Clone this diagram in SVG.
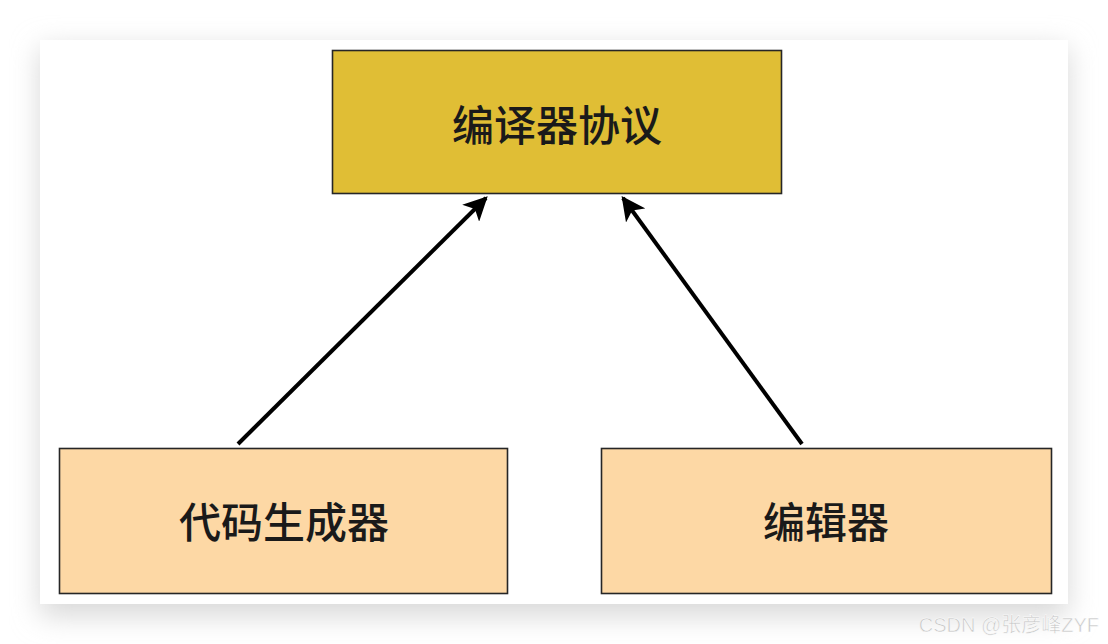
<svg xmlns="http://www.w3.org/2000/svg" width="1108" height="644" viewBox="0 0 1108 644">
<defs>
<filter id="sh" x="-10%" y="-20%" width="120%" height="140%"><feGaussianBlur stdDeviation="14"/></filter>
<marker id="ah" viewBox="0 0 10 10" refX="9" refY="5" markerWidth="6" markerHeight="6" orient="auto" markerUnits="strokeWidth"><path d="M0,0 L10,5 L0,10 L2.5,5 Z" fill="#000"/></marker>
<style>
.box{stroke:#262626;stroke-width:1.6}
.t{font-family:"Noto Sans CJK SC","Noto Sans",sans-serif;font-size:42px;font-weight:500;fill:#1a1a1a;text-anchor:middle;dominant-baseline:central}
.c{stroke:#000;stroke-width:4;fill:none;marker-end:url(#ah)}
</style>
</defs>
<rect width="1108" height="644" fill="#ffffff"/>
<rect x="40" y="48" width="1028" height="568" fill="#d8d8d8" filter="url(#sh)"/>
<rect x="40" y="40" width="1028" height="564" fill="#ffffff"/>
<g id="connectors">
<line class="c" x1="238" y1="444" x2="486" y2="198"/>
<line class="c" x1="802" y1="444" x2="623" y2="198"/>
</g>
<g id="compiler-protocol">
<rect class="box" x="332.5" y="50.5" width="449" height="143" fill="#e0be35"/>
<text class="t" x="557" y="122">编译器协议</text>
</g>
<g id="code-generator">
<rect class="box" x="59.5" y="448.5" width="448" height="145" fill="#fdd8a5"/>
<text class="t" x="284" y="519">代码生成器</text>
</g>
<g id="editor">
<rect class="box" x="601.5" y="448.5" width="450" height="145" fill="#fdd8a5"/>
<text class="t" x="826" y="519">编辑器</text>
</g>
<text x="1099" y="632" text-anchor="end" font-family="'Liberation Sans','Noto Sans CJK SC',sans-serif" font-size="20" fill="#c8c8c8" stroke="#ffffff" stroke-width="0.5">CSDN @张彦峰ZYF</text>
</svg>
